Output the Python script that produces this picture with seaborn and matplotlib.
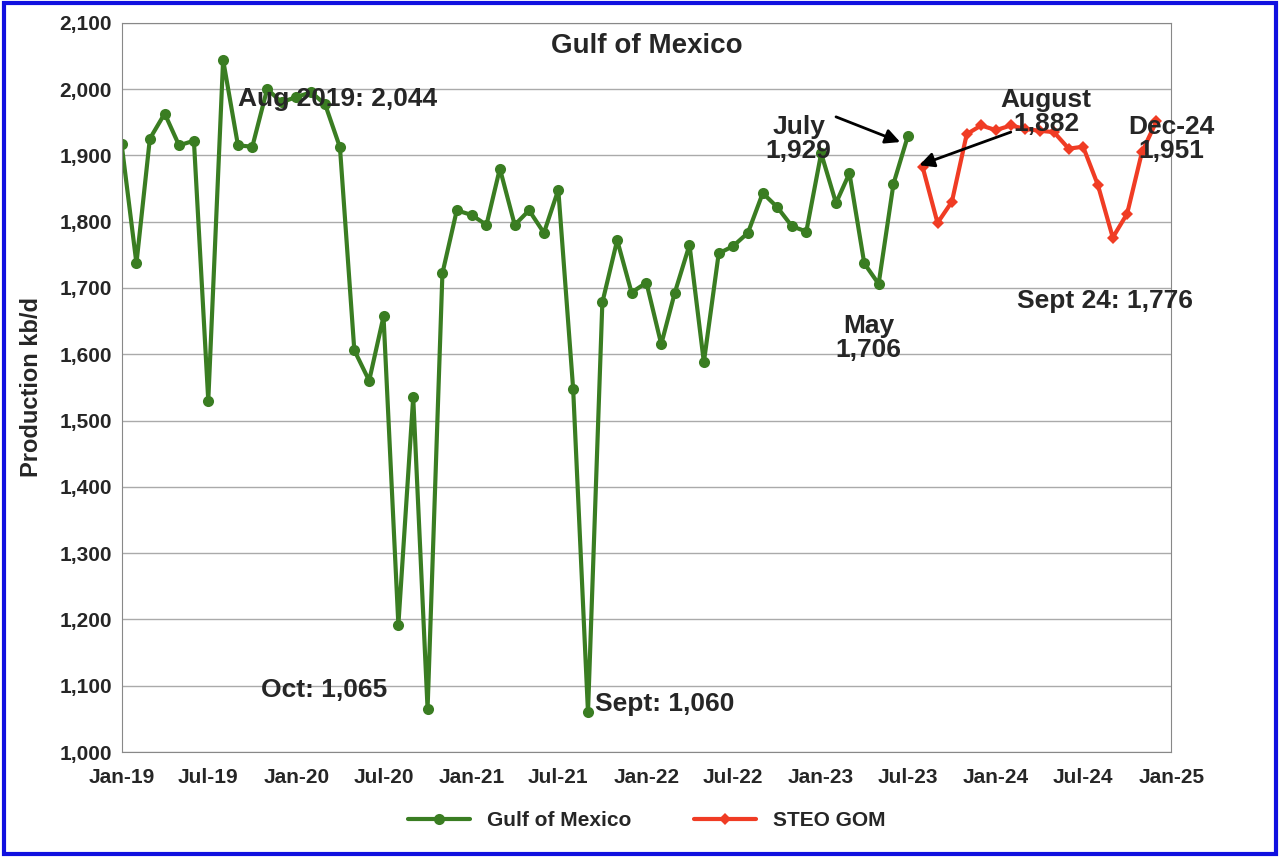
import matplotlib
matplotlib.use('Agg')
import matplotlib.pyplot as plt
import matplotlib.dates as mdates
from matplotlib.patches import Rectangle
import pandas as pd
import seaborn as sns

gom_values = [1917, 1737, 1925, 1963, 1915, 1922, 1530, 2044, 1915, 1913, 2000, 1980,
              1988, 1995, 1977, 1912, 1606, 1560, 1657, 1192, 1535, 1065, 1722, 1817,
              1810, 1795, 1880, 1795, 1817, 1783, 1848, 1548, 1060, 1678, 1772, 1693,
              1708, 1615, 1692, 1765, 1588, 1752, 1763, 1783, 1843, 1822, 1793, 1785,
              1903, 1828, 1873, 1737, 1706, 1857, 1929]
steo_values = [1882, 1798, 1830, 1932, 1945, 1938, 1945, 1940, 1937, 1935, 1910, 1913,
               1855, 1776, 1812, 1905, 1951]
gom_dates = pd.date_range('2019-01-01', periods=len(gom_values), freq='MS')
steo_dates = pd.date_range('2023-08-01', periods=len(steo_values), freq='MS')
tick_dates = pd.date_range('2019-01-01', '2025-01-01', freq='6MS')

sns.set_style('white')
plt.rcParams['font.family'] = ['Liberation Sans', 'DejaVu Sans']
plt.rcParams['font.weight'] = 'bold'

fig = plt.figure(figsize=(12.8, 8.57), dpi=100)
ax = fig.add_axes([0.095, 0.1225, 0.82, 0.851])

df_g = pd.DataFrame({'date': gom_dates, 'v': gom_values})
df_s = pd.DataFrame({'date': steo_dates, 'v': steo_values})
sns.lineplot(data=df_g, x='date', y='v', ax=ax, color='#3a7d22', lw=3, marker='o',
             markersize=8, markeredgewidth=0, label='Gulf of Mexico')
sns.lineplot(data=df_s, x='date', y='v', ax=ax, color='#f03c24', lw=3, marker='D',
             markersize=6, markeredgewidth=0, label='STEO GOM')

ax.set_ylim(1000, 2100)
ax.set_yticks(range(1000, 2101, 100))
ax.set_yticklabels([f'{v:,}' for v in range(1000, 2101, 100)], fontsize=15, fontweight='bold')
ax.set_xlim(tick_dates[0], tick_dates[-1])
ax.set_xticks(tick_dates)
ax.xaxis.set_major_formatter(mdates.DateFormatter('%b-%y'))
for t in ax.get_xticklabels():
    t.set_fontsize(15)
    t.set_fontweight('bold')
ax.tick_params(axis='x', pad=8)
ax.grid(axis='y', color='#aaaaaa', lw=1)
for s in ax.spines.values():
    s.set_color('#888888')
ax.set_xlabel('')
ax.set_ylabel('Production kb/d', fontsize=17, fontweight='bold', labelpad=12)
ax.text(0.5, 2065, 'Gulf of Mexico', transform=ax.get_yaxis_transform(), fontsize=20,
        fontweight='bold', ha='center', va='center')

fs = 19
kw = dict(fontsize=fs, fontweight='bold', linespacing=1.0)
ax.text(pd.Timestamp('2019-09-01'), 1985, 'Aug 2019: 2,044', va='center', **kw)
ax.text(pd.Timestamp('2019-10-20'), 1093, 'Oct: 1,065', va='center', **kw)
ax.text(pd.Timestamp('2021-09-15'), 1073, 'Sept: 1,060', va='center', **kw)
ax.text(pd.Timestamp('2023-04-10'), 1625, 'May\n1,706', ha='center', va='center', **kw)
ax.text(pd.Timestamp('2024-02-15'), 1680, 'Sept 24: 1,776', va='center', **kw)
ax.text(pd.Timestamp('2025-01-01'), 1925, 'Dec-24\n1,951', ha='center', va='center', **kw)
ax.text(pd.Timestamp('2022-11-15'), 1925, 'July\n1,929', ha='center', va='center', **kw)
ax.text(pd.Timestamp('2024-04-15'), 1965, 'August\n1,882', ha='center', va='center', **kw)
arrow = dict(arrowstyle='-|>', color='black', lw=2, mutation_scale=22, shrinkA=0, shrinkB=0)
ax.annotate('', xy=(pd.Timestamp('2023-06-15'), 1920), xytext=(pd.Timestamp('2023-02-01'), 1958),
            arrowprops=arrow)
ax.annotate('', xy=(pd.Timestamp('2023-07-25'), 1885), xytext=(pd.Timestamp('2024-02-01'), 1935),
            arrowprops=arrow)

ax.legend(loc='upper center', bbox_to_anchor=(0.5, -0.055), ncol=2, frameon=False,
          prop={'size': 15, 'weight': 'bold'}, columnspacing=3, handlelength=3)

fig.patches.append(Rectangle((0.003, 0.004), 0.994, 0.992, transform=fig.transFigure,
                             fill=False, edgecolor='#1010e0', lw=3))
fig.savefig('out.png', dpi=100)
